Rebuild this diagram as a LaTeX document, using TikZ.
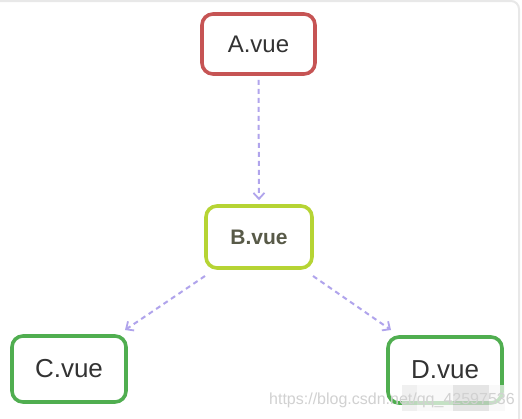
\documentclass[tikz,border=0pt]{standalone}
\usepackage{fontspec}
\setmainfont{Liberation Sans}
\usetikzlibrary{arrows.meta}
\definecolor{redb}{RGB}{198,84,84}
\definecolor{limeb}{RGB}{182,212,52}
\definecolor{greenb}{RGB}{80,174,80}
\definecolor{arrowc}{RGB}{176,164,236}
\definecolor{frame}{RGB}{232,232,232}
\definecolor{btext}{RGB}{88,90,72}
\tikzset{
  vbox/.style={draw, line width=3.6pt, rounded corners=11pt, fill=white, inner sep=0pt, text=black!80},
  link/.style={draw=arrowc, line width=2pt, dash pattern=on 5pt off 4pt, -{Straight Barb[length=6pt,width=11pt,line width=1.8pt]}, shorten >=4pt, shorten <=4pt},
}
\begin{document}
\begin{tikzpicture}[x=1pt,y=-1pt]
\useasboundingbox (0,0) rectangle (522,418);
\fill[white] (0,0) rectangle (522,418);
\draw[frame, line width=2pt, rounded corners=8pt] (-20,1) -- (519,1) -- (519,430);
\node[vbox, draw=redb, minimum width=113pt, minimum height=60pt, font=\fontsize{24}{24}\selectfont] (A) at (258.5,44) {A.vue};
\node[vbox, draw=limeb, minimum width=106pt, minimum height=62pt, font=\fontsize{21}{21}\selectfont\bfseries, text=btext] (B) at (259,237) {B.vue};
\node[vbox, draw=greenb, minimum width=114pt, minimum height=66pt, font=\fontsize{26}{26}\selectfont] (C) at (69,369) {C.vue};
\node[vbox, draw=greenb, minimum width=114pt, minimum height=66pt, font=\fontsize{26}{26}\selectfont] (D) at (445,370) {D.vue};
\draw[link] (A.south) -- (B.north);
\coordinate (bl) at (205,276);
\coordinate (br) at (313,276);
\coordinate (ct) at (125,330);
\coordinate (dt) at (391,330);
\draw[link, shorten <=0pt, shorten >=0pt] (bl) -- (ct);
\draw[link, shorten <=0pt, shorten >=0pt] (br) -- (dt);
\fill[black!8, opacity=0.7] (402,385) rectangle (417,411);
\fill[black!3, opacity=0.7] (417,385) rectangle (453,411);
\fill[black!14, opacity=0.7] (453,385) rectangle (489,411);
\fill[black!3, opacity=0.7] (489,385) rectangle (505,411);
\node[text=black!18, font=\fontsize{16}{16}\selectfont, anchor=west, inner sep=0pt] (wm) at (269,400) {https://blog.csdn.net/qq\_42597536};
\end{tikzpicture}
\end{document}
